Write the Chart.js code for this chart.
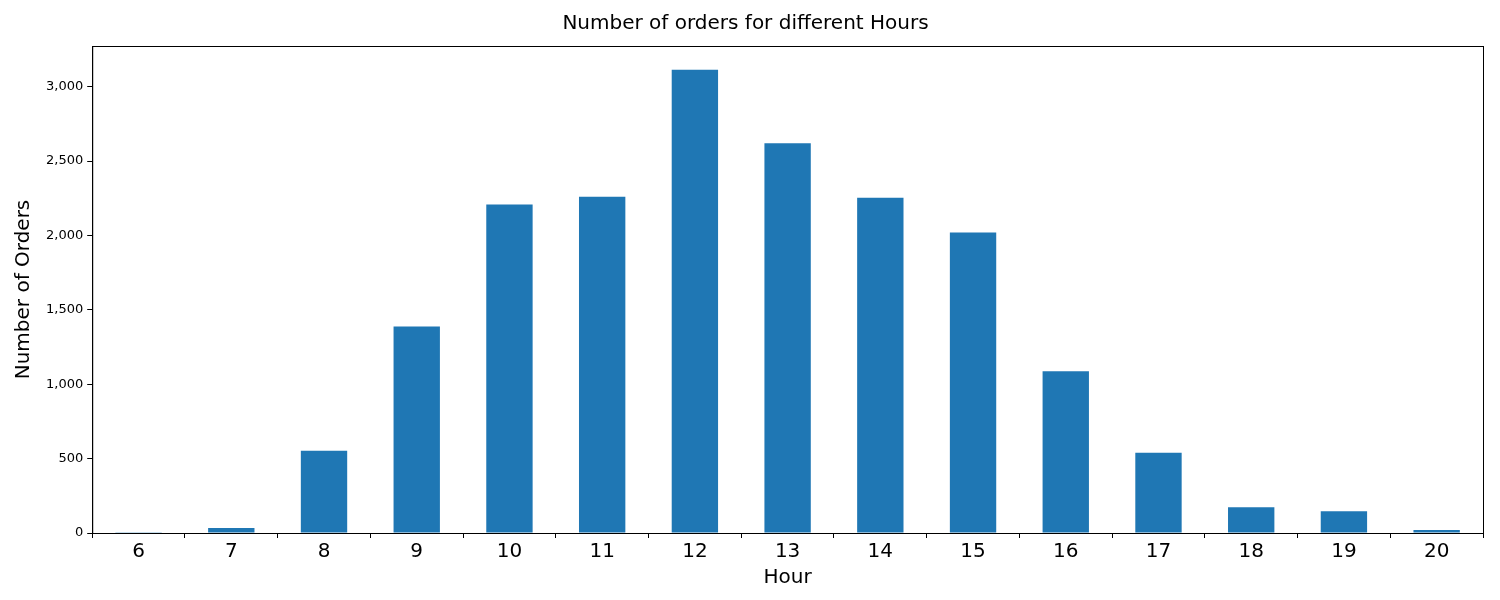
<!DOCTYPE html>
<html>
<head>
<script src="https://cdn.jsdelivr.net/npm/chart.js@4"></script>
<style>body{margin:0;background:#fff}</style>
</head>
<body>
<canvas id="chart" width="1500" height="600"></canvas>
<script>
// Orders per hour
const hours = ["6", "7", "8", "9", "10", "11", "12", "13", "14", "15", "16", "17", "18", "19", "20"];
const orders = [1, 33, 553, 1387, 2207, 2260, 3113, 2620, 2253, 2020, 1087, 540, 173, 147, 20];
const yTicks = [0, 500, 1000, 1500, 2000, 2500, 3000];

// Box around the plot area like matplotlib's spines
const frame = {
  id: "frame",
  afterDraw(chart) {
    const { ctx, chartArea: a } = chart;
    ctx.save();
    ctx.strokeStyle = "#000";
    ctx.lineWidth = 1;
    ctx.strokeRect(a.left + 0.5, a.top + 0.5, a.right - a.left, a.bottom - a.top);
    ctx.restore();
  },
};

const font = "'DejaVu Sans', sans-serif";

new Chart(document.getElementById("chart"), {
  type: "bar",
  data: {
    labels: hours,
    datasets: [{ data: orders, backgroundColor: "#1f77b4", categoryPercentage: 1, barPercentage: 0.5 }],
  },
  options: {
    responsive: false,
    animation: false,
    layout: { padding: { left: 8, right: 17, top: 4, bottom: 6 } },
    plugins: {
      legend: { display: false },
      tooltip: { enabled: false },
      title: {
        display: true,
        text: "Number of orders for different Hours",
        color: "#000",
        font: { family: font, size: 20, weight: "normal" },
        padding: { top: 8, bottom: 10 },
      },
    },
    scales: {
      x: {
        grid: { drawOnChartArea: false, tickLength: 5, color: "#000" },
        border: { color: "#000" },
        ticks: { color: "#000", font: { family: font, size: 20 }, maxRotation: 0, padding: 2 },
        title: { display: true, text: "Hour", color: "#000", font: { family: font, size: 20 }, padding: { top: 0 } },
      },
      y: {
        min: 0,
        max: 3273,
        afterBuildTicks(axis) { axis.ticks = yTicks.map((v) => ({ value: v })); },
        grid: { drawOnChartArea: false, tickLength: 5, color: "#000" },
        border: { color: "#000" },
        ticks: { color: "#000", font: { family: font, size: 13 }, padding: 4 },
        title: { display: true, text: "Number of Orders", color: "#000", font: { family: font, size: 20 }, padding: { bottom: 6 } },
      },
    },
  },
  plugins: [frame],
});
</script>
</body>
</html>
